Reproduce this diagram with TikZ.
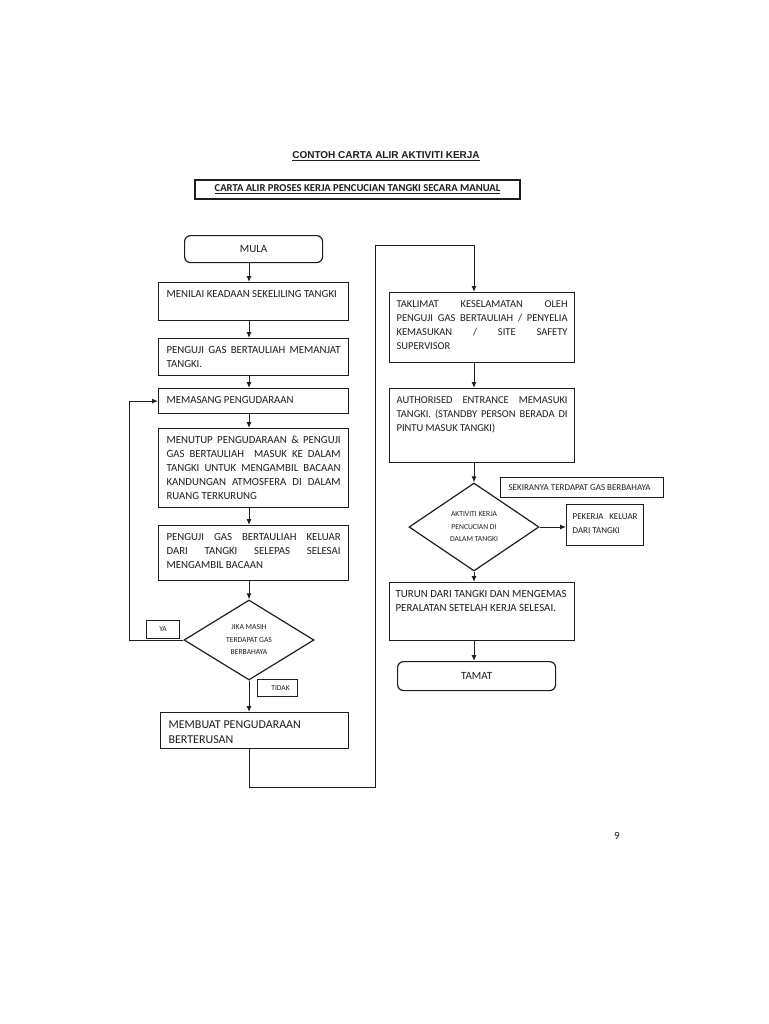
\documentclass[tikz,border=0pt]{standalone}
\usepackage{fontspec}
\setmainfont{Carlito}
\newfontfamily\arialfont{Liberation Sans}
\usetikzlibrary{shapes.geometric,arrows.meta}
\definecolor{ink}{HTML}{1E1E1E}
\newcommand{\bx}[3]{\parbox[c][#2pt][t]{#1pt}{\setlength{\parindent}{0pt}#3}}
\newcommand{\fs}[2]{\fontsize{#1}{#2}\selectfont}
\begin{document}
\begin{tikzpicture}[x=1pt,y=-1pt,
  box/.style={draw=ink, line width=1.2pt, inner xsep=8pt, inner ysep=5pt, anchor=north west, text=ink, font=\fs{10.8}{14}},
  rbox/.style={draw=ink, line width=1.2pt, rounded corners=6pt, anchor=north west, inner sep=0pt, text=ink, font=\fs{11}{13}},
  dia/.style={draw=ink, line width=1.2pt, diamond, aspect=1.6, inner sep=0pt, align=center, text=ink},
  tag/.style={draw=ink, line width=1pt, anchor=north west, inner sep=0pt, text=ink},
  arr/.style={draw=ink, line width=1pt, -{Latex[length=6pt,width=5pt]}}]
\useasboundingbox[fill=white] (0,0) rectangle (768,1024);

% titles
\node[text=ink] (title) at (386,156) {\arialfont\bfseries\fs{10}{12}\underline{CONTOH CARTA ALIR AKTIVITI KERJA}};
\node[draw=ink, line width=2pt, minimum width=325pt, minimum height=19pt, inner sep=0pt, text=ink] (sub) at (357.5,189.5) {\bfseries\fs{10.6}{12}\underline{CARTA ALIR PROSES KERJA PENCUCIAN TANGKI SECARA MANUAL}};

% left column
\node[rbox, minimum width=138pt, minimum height=27pt] (mula) at (184,235) {MULA};
\node[box] (menilai) at (158,282) {\bx{174}{28}{\strut MENILAI KEADAAN SEKELILING TANGKI}};
\node[box] (memanjat) at (158,338) {\bx{174}{27}{\strut PENGUJI GAS BERTAULIAH MEMANJAT\linebreak TANGKI.}};
\node[box] (memasang) at (158,388) {\bx{174}{15}{\strut MEMASANG PENGUDARAAN}};
\node[box] (menutup) at (158,428) {\bx{174}{69}{\strut MENUTUP PENGUDARAAN \& PENGUJI\linebreak GAS BERTAULIAH\ \ MASUK KE DALAM\linebreak TANGKI UNTUK MENGAMBIL BACAAN\linebreak KANDUNGAN ATMOSFERA DI DALAM\linebreak RUANG TERKURUNG}};
\node[box] (keluar) at (158,525) {\bx{174}{45}{\strut PENGUJI GAS BERTAULIAH KELUAR\linebreak DARI TANGKI SELEPAS SELESAI\linebreak MENGAMBIL BACAAN}};
\node[dia, minimum width=130pt, minimum height=80pt, font=\fs{7.6}{12.5}] (d1) at (249,640) {JIKA MASIH\\TERDAPAT GAS\\BERBAHAYA};
\node[tag, minimum width=33pt, minimum height=18pt, font=\fs{7.5}{9}] (ya) at (146,620) {YA};
\node[tag, minimum width=40pt, minimum height=17pt, font=\fs{7.5}{9}] (tidak) at (257,679) {\hspace*{6pt}TIDAK};
\node[box, font=\fs{12}{15}] (membuat) at (160,712) {\bx{172}{26}{\strut MEMBUAT PENGUDARAAN\\BERTERUSAN}};

% right column
\node[box, inner xsep=7pt, font=\fs{10.5}{14}] (taklimat) at (389,292) {\bx{171}{60}{\strut TAKLIMAT KESELAMATAN OLEH\linebreak PENGUJI GAS BERTAULIAH / PENYELIA\linebreak KEMASUKAN / SITE SAFETY\linebreak SUPERVISOR}};
\node[box, inner xsep=7pt, font=\fs{10.5}{14}] (auth) at (389,388) {\bx{171}{64}{\strut AUTHORISED ENTRANCE MEMASUKI\linebreak TANGKI. (STANDBY PERSON BERADA DI\linebreak PINTU MASUK TANGKI)}};
\node[dia, minimum width=130pt, minimum height=88pt, font=\fs{7.6}{12.5}] (d2) at (474,527) {AKTIVITI KERJA\\PENCUCIAN DI\\DALAM TANGKI};
\node[box, inner xsep=8pt, font=\fs{9}{11}] (sekira) at (500,477) {\parbox[c][10pt][c]{147pt}{SEKIRANYA TERDAPAT GAS BERBAHAYA}};
\node[box, inner xsep=6pt, font=\fs{9}{14}] (pekerja) at (566,504) {\bx{65}{31}{\strut PEKERJA KELUAR\linebreak DARI TANGKI}};
\node[box, inner xsep=6pt, font=\fs{10.9}{14}] (turun) at (389,582) {\bx{173}{48}{\strut TURUN DARI TANGKI DAN MENGEMAS\\PERALATAN SETELAH KERJA SELESAI.}};
\node[rbox, minimum width=158pt, minimum height=29pt] (tamat) at (397,661) {TAMAT};

\node[text=ink] (pg) at (617,836) {\fs{11}{13}9};

% connectors left
\draw[arr] (mula.south -| d1) -- (menilai.north -| d1);
\draw[arr] (menilai.south -| d1) -- (memanjat.north -| d1);
\draw[arr] (memanjat.south -| d1) -- (memasang.north -| d1);
\draw[arr] (memasang.south -| d1) -- (menutup.north -| d1);
\draw[arr] (menutup.south -| d1) -- (keluar.north -| d1);
\draw[arr] (keluar.south -| d1) -- (d1.north);
\draw[arr] (d1.south) -- (membuat.north -| d1);
\draw[arr] (d1.west) -- ++(-54,0) |- (memasang.west);

% long connector
\coordinate (c1) at (375,787);
\coordinate (c2) at (375,245);
\draw[arr] (membuat.south -| d1) |- (c1) -- (c2) -| (taklimat.north -| d2);

% connectors right
\draw[arr] (taklimat.south -| d2) -- (auth.north -| d2);
\draw[arr] (auth.south -| d2) -- (d2.north);
\draw[arr] (d2.east) -- (pekerja.west |- d2.east);
\draw[arr] (d2.south) -- (turun.north -| d2);
\draw[arr] (turun.south -| d2) -- (tamat.north -| d2);
\end{tikzpicture}
\end{document}
